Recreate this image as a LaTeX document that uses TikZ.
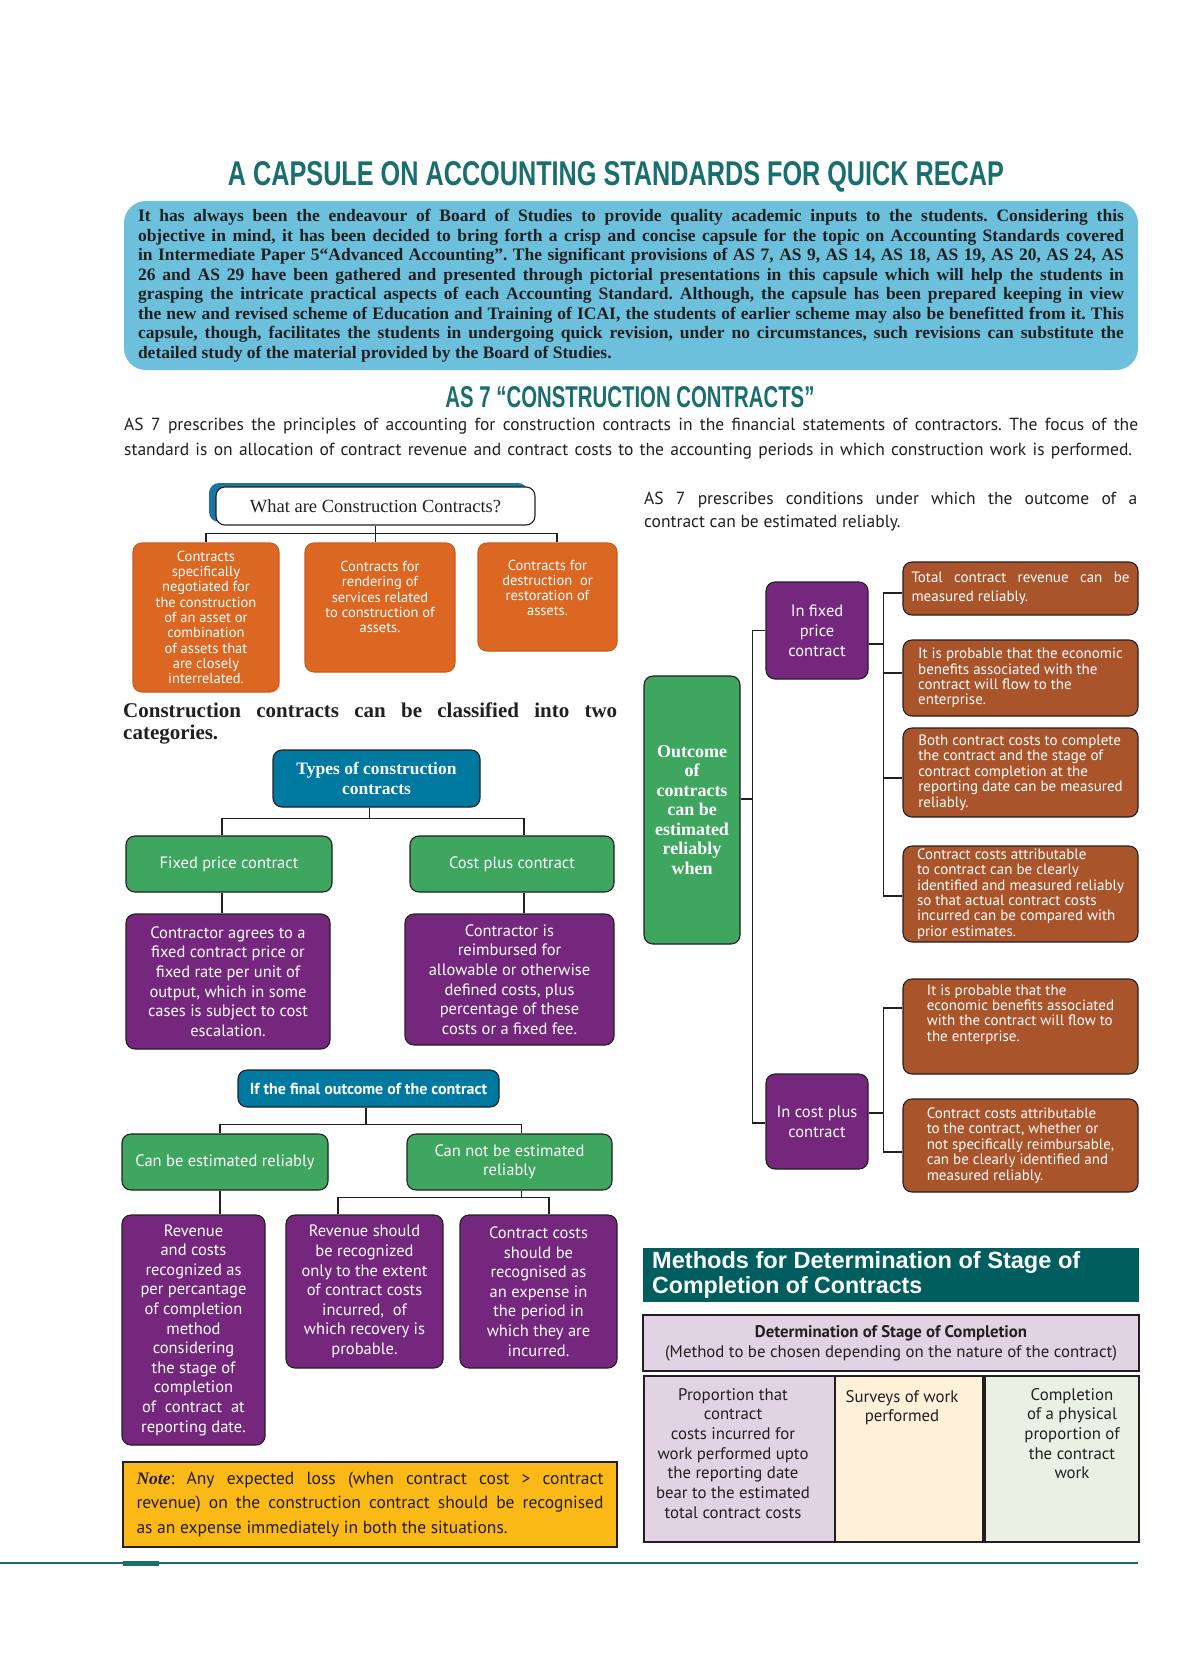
\documentclass[tikz,border=0pt]{standalone}
\usepackage{fontspec}
\usepackage{graphicx}
\setmainfont{PT Sans}
\newfontfamily\pts{PT Sans}
\newfontfamily\lser{Liberation Serif}
\newfontfamily\lsans{Liberation Sans}
\newcommand\fsz[2]{\fontsize{#1}{#2}\selectfont}
\newcommand\jl[2]{\makebox[#1][s]{#2}}
\frenchspacing
\definecolor{teal1}{RGB}{26,110,110}
\definecolor{introblue}{RGB}{108,192,220}
\definecolor{orangeA}{RGB}{220,103,34}
\definecolor{brownA}{RGB}{169,84,42}
\definecolor{blueA}{RGB}{0,121,160}
\definecolor{shadowblue}{RGB}{24,118,160}
\definecolor{greenA}{RGB}{62,166,95}
\definecolor{purpleA}{RGB}{116,39,125}
\definecolor{noteY}{RGB}{251,185,23}
\definecolor{banner}{RGB}{0,94,94}
\definecolor{lav}{RGB}{226,211,228}
\definecolor{cream}{RGB}{255,240,217}
\definecolor{lgreen}{RGB}{234,240,228}
\definecolor{edge}{RGB}{35,31,32}
\definecolor{ink}{RGB}{35,31,32}
\begin{document}
\begin{tikzpicture}[x=1pt,y=-1pt,
  bx/.style={rounded corners=9pt, draw=edge, line width=1.1pt, align=center, inner sep=2pt, text=white},
  orangebox/.style={bx, fill=orangeA, draw=orangeA!90!black, font=\pts\fsz{14.5}{15.3}},
  purplebox/.style={bx, fill=purpleA, font=\pts\fsz{16.5}{19.6}},
  greenbox/.style={bx, fill=greenA, font=\pts\fsz{16.5}{19.5}},
  bluebox/.style={bx, fill=blueA, font=\pts\bfseries\fsz{15}{19.5}},
  brownbox/.style={bx, fill=brownA, align=left, font=\pts\fsz{15}{15.4}},
  cellbox/.style={draw=edge, line width=1.1pt, inner sep=0pt},
  celltext/.style={anchor=north, align=center, inner sep=0pt, text=ink, font=\pts\fsz{16.8}{19.7}},
  conn/.style={draw=edge, line width=1.1pt},
  plain/.style={inner sep=0pt, text=ink}
]
\useasboundingbox (0,0) rectangle (1200,1680);
\fill[white] (0,0) rectangle (1200,1680);

% ---------- header ----------
\node[plain, text=teal1] (title) at (616,177) {\resizebox{776pt}{24pt}{\lsans\bfseries A CAPSULE ON ACCOUNTING STANDARDS FOR QUICK RECAP}};

\node[fill=introblue, rounded corners=22pt, minimum width=1014pt, minimum height=169pt, inner sep=0pt,
      align=left, text=ink, font=\lser\bfseries\fsz{17.5}{19.5}] (intro) at (631,285.5) {%
\jl{986pt}{It has always been the endeavour of Board of Studies to provide quality academic inputs to the students. Considering this}\\
\jl{986pt}{objective in mind, it has been decided to bring forth a crisp and concise capsule for the topic on Accounting Standards covered}\\
\jl{986pt}{in Intermediate Paper 5“Advanced Accounting”. The significant provisions of AS 7, AS 9, AS 14, AS 18, AS 19, AS 20, AS 24, AS}\\
\jl{986pt}{26 and AS 29 have been gathered and presented through pictorial presentations in this capsule which will help the students in}\\
\jl{986pt}{grasping the intricate practical aspects of each Accounting Standard. Although, the capsule has been prepared keeping in view}\\
\jl{986pt}{the new and revised scheme of Education and Training of ICAI, the students of earlier scheme may also be benefitted from it. This}\\
\jl{986pt}{capsule, though, facilitates the students in undergoing quick revision, under no circumstances, such revisions can substitute the}\\
\makebox[986pt][l]{detailed study of the material provided by the Board of Studies.}};

\node[plain, text=teal1] (as7) at (630,397) {\resizebox{369pt}{21pt}{\lsans\bfseries AS 7 “CONSTRUCTION CONTRACTS”}};

\node[plain, anchor=west, align=left, font=\pts\fsz{17.5}{25}] (para) at (124,439) {%
\jl{1014pt}{AS 7 prescribes the principles of accounting for construction contracts in the financial statements of contractors. The focus of the}\\
\jl{1008pt}{standard is on allocation of contract revenue and contract costs to the accounting periods in which construction work is performed.}};

% ---------- left column: what are ----------
\node[fill=shadowblue, rounded corners=10pt, minimum width=319pt, minimum height=39pt, inner sep=0pt] (whatsh) at (368.5,502.5) {};
\node[bx, fill=white, text=ink, minimum width=319pt, minimum height=38pt, font=\lser\fsz{18.5}{19}] (what) at (375.5,506) {What are Construction Contracts?};

\node[orangebox, minimum width=146pt, minimum height=149pt] (o1) at (206,617.5) {Contracts\\specifically\\negotiated for\\the construction\\of an asset or\\combination\\of assets that\\are closely\\interrelated.};
\node[orangebox, minimum width=150pt, minimum height=129pt] (o2) at (380,607.5) {Contracts for\\rendering of\\services related\\to construction of\\assets.\\[6pt]};
\node[orangebox, minimum width=139pt, minimum height=108pt] (o3) at (547.5,597) {Contracts for\\destruction\ \ or\\restoration of\\assets.\\[3pt]};
\draw[conn] (what.south) -- ++(0,8) -| (o1.north);
\draw[conn] (what.south) -- ++(0,8) -| ([xshift=-4.5pt]o2.north);
\draw[conn] (what.south) -- ++(0,8) -| ([xshift=9.5pt]o3.north);

\node[plain, anchor=west, align=left, font=\lser\bfseries\fsz{21}{22}] (cls) at (123,723) {%
\jl{494pt}{Construction contracts can be classified into two}\\categories.};

% ---------- types ----------
\node[bluebox, minimum width=207pt, minimum height=57pt, font=\lser\bfseries\fsz{17.5}{19.5}] (types) at (376.5,778.5) {Types of construction\\contracts};
\node[greenbox, minimum width=206pt, minimum height=56pt] (fp) at (229,864) {Fixed price contract};
\node[greenbox, minimum width=204pt, minimum height=56pt] (cp) at (512,864) {Cost plus contract};
\draw[conn] ([xshift=-7pt]types.south) -- ++(0,11) -| ([xshift=-7pt]fp.north);
\draw[conn] ([xshift=-7pt]types.south) -- ++(0,11) -| ([xshift=12pt]cp.north);

\node[purplebox, minimum width=204pt, minimum height=135pt] (fpd) at (228,981.5) {Contractor agrees to a\\fixed contract price or\\fixed rate per unit of\\output, which in some\\cases is subject to cost\\escalation.};
\node[purplebox, minimum width=209pt, minimum height=131pt] (cpd) at (509.5,979.5) {Contractor is\\reimbursed for\\allowable or otherwise\\defined costs, plus\\percentage of these\\costs or a fixed fee.};
\draw[conn] ([xshift=-7pt]fp.south) -- ([xshift=-7pt]fp.south |- fpd.north);
\draw[conn] ([xshift=12pt]cp.south) -- ([xshift=12pt]cp.south |- cpd.north);

% ---------- if final outcome ----------
\node[bluebox, minimum width=261pt, minimum height=37pt, font=\pts\bfseries\fsz{16}{17}] (ifb) at (368.5,1088.5) {If the final outcome of the contract};
\node[greenbox, minimum width=206pt, minimum height=56pt] (cb) at (225,1162) {Can be estimated reliably};
\node[greenbox, minimum width=205pt, minimum height=56pt] (cnb) at (509.5,1162) {Can not be estimated\\reliably};
\draw[conn] ([xshift=-2.5pt]ifb.south) -- ++(0,17) -| ([xshift=-5pt]cb.north);
\draw[conn] ([xshift=-2.5pt]ifb.south) -- ++(0,17) -| ([xshift=12pt]cnb.north);

\node[purplebox, minimum width=143pt, minimum height=230pt] (r1) at (193.5,1330) {Revenue\\and costs\\recognized as\\per percantage\\of completion\\method\\considering\\the stage of\\completion\\of\ \ contract\ \ at\\reporting date.};
\node[purplebox, minimum width=157pt, minimum height=153pt] (r2) at (364.5,1291.5) {Revenue should\\be recognized\\only to the extent\\of contract costs\\incurred,\ \ of\\which recovery is\\probable.};
\node[purplebox, minimum width=157pt, minimum height=153pt] (r3) at (538.5,1291.5) {Contract costs\\should be\\recognised as\\an expense in\\the period in\\which they are\\incurred.};
\draw[conn] ([xshift=-5pt]cb.south) -- ([xshift=-5pt]cb.south |- r1.north);
\draw[conn] ([xshift=12pt]cnb.south) -- ++(0,7) -| ([xshift=-26.5pt]r2.north);
\draw[conn] ([xshift=12pt]cnb.south) -- ++(0,7) -| ([xshift=10.5pt]r3.north);

\node[draw=edge, line width=1.1pt, fill=noteY, minimum width=494pt, minimum height=85pt, inner sep=0pt,
      align=left, text=ink, font=\pts\fsz{17.5}{24.5}] (note) at (370,1504.5) {%
\jl{467pt}{{\lser\bfseries\itshape Note}: Any expected loss (when contract cost > contract}\\
\jl{467pt}{revenue) on the construction contract should be recognised}\\
\makebox[467pt][l]{as an expense immediately in both the situations.}};

% footer
\draw[teal1, line width=1.4pt] (0,1563) -- (1138,1563);
\fill[teal1] (123,1560.5) rectangle (159,1566);

% ---------- right column ----------
\node[plain, anchor=west, align=left, font=\pts\fsz{17.5}{23}] (cond) at (644,512) {%
\jl{493pt}{AS 7 prescribes conditions under which the outcome of a}\\contract can be estimated reliably.};

\node[bx, fill=greenA, minimum width=96pt, minimum height=268pt, font=\lser\bfseries\fsz{18}{19.5}] (out) at (692,810) {Outcome\\of\\contracts\\can be\\estimated\\reliably\\when};
\node[purplebox, minimum width=102pt, minimum height=97pt, font=\pts\fsz{16.5}{20}] (pf) at (817,630.5) {In fixed\\price\\contract};
\node[purplebox, minimum width=102pt, minimum height=95pt, font=\pts\fsz{16.5}{20}] (pc) at (817,1121.5) {In cost plus\\contract};
\draw[conn] ([yshift=11pt]out.east) -- ++(12,0) |- (pf.west);
\draw[conn] ([yshift=11pt]out.east) -- ++(12,0) |- ([yshift=-1.5pt]pc.west);

\node[brownbox, minimum width=235pt, minimum height=53pt, font=\pts\fsz{15}{19}] (b1) at (1020.5,588.5) {\jl{218pt}{Total contract revenue can be}\\measured reliably.};
\node[brownbox, minimum width=235pt, minimum height=76pt] (b2) at (1020.5,678) {It is probable that the economic\\benefits associated with the\\contract will flow to the\\enterprise.};
\node[brownbox, minimum width=235pt, minimum height=89pt] (b3) at (1020.5,772.5) {Both contract costs to complete\\the contract and the stage of\\contract completion at the\\reporting date can be measured\\reliably.};
\node[brownbox, minimum width=235pt, minimum height=96pt] (b4) at (1020.5,894) {Contract costs attributable\\to contract can be clearly\\identified and measured reliably\\so that actual contract costs\\incurred can be compared with\\prior estimates.};
\node[brownbox, minimum width=235pt, minimum height=95pt] (b5) at (1020.5,1026.5) {It is probable that the\\economic benefits associated\\with the contract will flow to\\the enterprise.\\[12pt]};
\node[brownbox, minimum width=235pt, minimum height=93pt] (b6) at (1020.5,1145.5) {Contract costs attributable\\to the contract, whether or\\not specifically reimbursable,\\can be clearly identified and\\measured reliably.};
\draw[conn] ([yshift=-13.5pt]pf.east) -- ++(15,0) |- ([yshift=-4.5pt]b1.west);
\draw[conn] ([yshift=-13.5pt]pf.east) -- ++(15,0) |- ([yshift=5pt]b2.west);
\draw[conn] ([yshift=-13.5pt]pf.east) -- ++(15,0) |- ([yshift=-5.5pt]b3.west);
\draw[conn] ([yshift=-13.5pt]pf.east) -- ++(15,0) |- ([yshift=-2pt]b4.west);
\draw[conn] ([yshift=8.5pt]pc.east) -- ++(15,0) |- ([yshift=18.5pt]b5.west);
\draw[conn] ([yshift=8.5pt]pc.east) -- ++(15,0) |- ([yshift=-6.5pt]b6.west);

% ---------- methods ----------
\node[fill=banner, minimum width=496pt, minimum height=54pt, inner sep=0pt] (ban) at (891,1275) {};
\node[anchor=west, align=left, inner sep=0pt, text=white, font=\lsans\fsz{17}{25}] (bant) at (652,1275) {%
\resizebox{428pt}{17pt}{\lsans\bfseries Methods for Determination of Stage of}\\
\resizebox{270pt}{17pt}{\lsans\bfseries Completion of Contracts}};

\node[cellbox, fill=lav, minimum width=496pt, minimum height=56pt, align=center, text=ink, font=\pts\fsz{16.8}{20}] (det) at (891,1343) {\textbf{Determination of Stage of Completion}\\(Method to be chosen depending on the nature of the contract)};

\node[cellbox, fill=lav, minimum width=191pt, minimum height=166pt] (c1) at (739.5,1459) {};
\node[cellbox, fill=cream, minimum width=148pt, minimum height=166pt] (c2) at (909,1459) {};
\node[cellbox, fill=lgreen, minimum width=154pt, minimum height=166pt] (c3) at (1062,1459) {};
\node[celltext] (c1t) at (733,1388) {Proportion that\\contract\\costs incurred for\\work performed upto\\the reporting date\\bear to the estimated\\total contract costs};
\node[celltext] (c2t) at (902,1390) {Surveys of work\\performed};
\node[celltext] (c3t) at (1072,1388) {Completion\\of a physical\\proportion of\\the contract\\work};
\end{tikzpicture}
\end{document}
